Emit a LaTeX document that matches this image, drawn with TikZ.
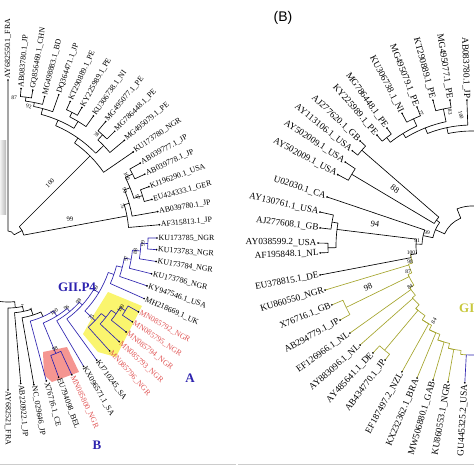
\documentclass[tikz,border=0pt]{standalone}
\usepackage{fontspec}
\setmainfont{Liberation Serif}
\newfontfamily\sansf{Liberation Sans}
\usetikzlibrary{calc}
\definecolor{gb}{RGB}{45,35,175}
\definecolor{olv}{RGB}{165,165,45}
\definecolor{olvtxt}{RGB}{200,200,60}
\definecolor{rtxt}{RGB}{225,85,85}
\definecolor{ylw}{RGB}{250,245,110}
\definecolor{pnk}{RGB}{245,150,145}
\tikzset{
 br/.style={line width=0.65pt, line join=round},
 lblL/.style={font=\fontsize{7.9}{8}\selectfont, inner sep=0.6pt},
 lblR/.style={font=\fontsize{9.3}{10}\selectfont, inner sep=0.6pt},
 bs/.style={font=\fontsize{5.5}{6}\selectfont, inner sep=0pt},
 bsm/.style={font=\fontsize{6.5}{7}\selectfont, inner sep=0pt},
 bsbig/.style={font=\fontsize{8.5}{9}\selectfont, inner sep=0pt},
 clade/.style={font=\bfseries\fontsize{13}{14}\selectfont, text=gb, inner sep=0pt},
}
\newcommand{\arcbr}[6]{\draw[br,#2] ($(#1)+(#3:#4pt)$) -- ($(#1)+(#3:#6pt)$) arc[start angle=#3, end angle=#5, radius=#6pt];}
\newcommand{\leafL}[4]{\fill ($(CL)+(#1:#2pt)$) circle (0.95pt); \node[lblL,text=#4,anchor=west,rotate=#1] at ($(CL)+(#1:#2pt)+(#1:0.8pt)$) {#3};}
\newcommand{\leafR}[4]{\fill ($(CR)+(#1:#2pt)$) circle (0.95pt); \node[lblR,text=#4,anchor=east,rotate=#1-180] at ($(CR)+(#1:#2pt)+(#1:0.8pt)$) {#3};}
\newcommand{\bsC}[5]{\node[bs,rotate=#5] at ($(#1)+(#2:#3pt)$) {#4};}
\begin{document}
\begin{tikzpicture}[x=1pt,y=1pt]
\fill[white] (0,0) rectangle (474,-474);
\useasboundingbox (0,0) rectangle (474,-474);
\coordinate (CL) at (8,-238);
\coordinate (CR) at (472,-246);
% highlights
\fill[ylw] (108,-292) -- (142,-306) -- (116,-357) -- (98,-352) -- (83,-334) -- (93,-316) -- cycle;
\fill[pnk] (43,-352) -- (67,-347) -- (79,-372) -- (52,-382) -- (44,-375) -- cycle;
\shade[left color=gray!10, right color=gray!55] (0,-140) rectangle (6,-214);
\draw[gray!40, line width=1pt] (0,-464) -- (236,-464) (238,-464) -- (474,-464);
% ---------- left tree: top clade
\arcbr{CL}{black}{85}{150}{82.75}{142}
\arcbr{CL}{black}{80.5}{150}{82.75}{142}
\arcbr{CL}{black}{82.75}{142}{79}{138}
\arcbr{CL}{black}{75.5}{146}{79}{138}
\arcbr{CL}{black}{79}{138}{75}{134}
\arcbr{CL}{black}{70.5}{152}{75}{134}
\arcbr{CL}{black}{65.5}{150}{63}{141}
\arcbr{CL}{black}{60.5}{150}{63}{141}
\arcbr{CL}{black}{63}{141}{59}{136}
\arcbr{CL}{black}{55}{149}{59}{136}
\arcbr{CL}{black}{75}{134}{67}{128}
\arcbr{CL}{black}{59}{136}{67}{128}
\arcbr{CL}{black}{50}{152}{47.5}{140}
\arcbr{CL}{black}{45}{151}{47.5}{140}
\arcbr{CL}{black}{47.5}{140}{44}{133}
\arcbr{CL}{black}{40}{152}{44}{133}
\arcbr{CL}{black}{67}{128}{55}{122}
\arcbr{CL}{black}{44}{133}{55}{122}
\arcbr{CL}{black}{55}{122}{45}{116}
\arcbr{CL}{black}{34.5}{152}{45}{116}
\arcbr{CL}{black}{45}{116}{28}{16}
\arcbr{CL}{black}{29.5}{152}{27.25}{140}
\arcbr{CL}{black}{25}{151}{27.25}{140}
\arcbr{CL}{black}{20}{150}{17.5}{141}
\arcbr{CL}{black}{15}{149}{17.5}{141}
\arcbr{CL}{black}{27.25}{140}{22.4}{132}
\arcbr{CL}{black}{17.5}{141}{22.4}{132}
\arcbr{CL}{black}{22.4}{132}{16}{126}
\arcbr{CL}{black}{10}{152}{16}{126}
\arcbr{CL}{black}{16}{126}{10.5}{121}
\arcbr{CL}{black}{5}{152}{10.5}{121}
\arcbr{CL}{black}{10.5}{121}{28}{16}
\arcbr{CL}{black}{28}{16}{60}{7}
\arcbr{CL}{black}{90}{158}{60}{7}
% ---------- left tree: GII.P4 clade
\arcbr{CL}{gb}{0}{149}{-2.25}{140}
\arcbr{CL}{gb}{-4.5}{149}{-2.25}{140}
\arcbr{CL}{gb}{-2.25}{140}{-5.6}{133}
\arcbr{CL}{gb}{-9}{150}{-5.6}{133}
\arcbr{CL}{gb}{-5.6}{133}{-9.8}{125}
\arcbr{CL}{gb}{-14}{148}{-9.8}{125}
\arcbr{CL}{gb}{-9.8}{125}{-14.4}{118}
\arcbr{CL}{gb}{-19}{147}{-14.4}{118}
\arcbr{CL}{gb}{-14.4}{118}{-19}{112}
\arcbr{CL}{gb}{-24}{149}{-19}{112}
\arcbr{CL}{gb}{-29.5}{150}{-31.75}{138}
\arcbr{CL}{gb}{-34}{150}{-31.75}{138}
\arcbr{CL}{gb}{-31.75}{138}{-35}{132}
\arcbr{CL}{gb}{-38.5}{151}{-35}{132}
\arcbr{CL}{gb}{-35}{132}{-39}{126}
\arcbr{CL}{gb}{-43}{152}{-39}{126}
\arcbr{CL}{gb}{-39}{126}{-43.5}{120}
\arcbr{CL}{gb}{-48}{152}{-43.5}{120}
\arcbr{CL}{gb}{-19}{112}{-31}{106}
\arcbr{CL}{gb}{-43.5}{120}{-31}{106}
\arcbr{CL}{gb}{-31}{106}{-42}{100}
\arcbr{CL}{gb}{-54}{151}{-42}{100}
\arcbr{CL}{gb}{-42}{100}{-50}{96}
\arcbr{CL}{gb}{-59.5}{149}{-50}{96}
\arcbr{CL}{gb}{-65}{151}{-67.5}{125}
\arcbr{CL}{gb}{-70}{148}{-67.5}{125}
\arcbr{CL}{gb}{-50}{96}{-58}{92}
\arcbr{CL}{gb}{-67.5}{125}{-58}{92}
\arcbr{CL}{gb}{-58}{92}{-66}{86}
\arcbr{CL}{gb}{-75}{148}{-66}{86}
\arcbr{CL}{black}{-66}{86}{-72}{81}
\arcbr{CL}{black}{-80}{149}{-72}{81}
\arcbr{CL}{black}{-72}{81}{-78}{75}
\arcbr{CL}{black}{-85}{146}{-78}{75}
\arcbr{CL}{black}{-78}{75}{-84}{70}
\arcbr{CL}{black}{-90}{152}{-84}{70}
\arcbr{CL}{black}{-84}{70}{-110}{64}
% left leaves
\leafL{90}{158}{AY682550.1\_FRA}{black}
\leafL{85}{150}{AB083780.1\_JP}{black}
\leafL{80.5}{150}{GQ856469.1\_CHN}{black}
\leafL{75.5}{146}{MG498883.1\_BD}{black}
\leafL{70.5}{152}{DQ364471.1\_JP}{black}
\leafL{65.5}{150}{KT290889.1\_PE}{black}
\leafL{60.5}{150}{KY225989.1\_PE}{black}
\leafL{55}{149}{KU306738.1\_NI}{black}
\leafL{50}{152}{MG495077.1\_PE}{black}
\leafL{45}{151}{MG786448.1\_PE}{black}
\leafL{40}{152}{MG495079.1\_PE}{black}
\leafL{34.5}{152}{KU173780\_NGR}{black}
\leafL{29.5}{152}{AB039777.1\_JP}{black}
\leafL{25}{151}{AB039778.1\_JP}{black}
\leafL{20}{150}{KJ196290.1\_USA}{black}
\leafL{15}{149}{EU424333.1\_GER}{black}
\leafL{10}{152}{AB039780.1\_JP}{black}
\leafL{5}{152}{AF315813.1\_JP}{black}
\leafL{0}{149}{KU173785\_NGR}{black}
\leafL{-4.5}{149}{KU173783\_NGR}{black}
\leafL{-9}{150}{KU173784\_NGR}{black}
\leafL{-14}{148}{KU173786\_NGR}{black}
\leafL{-19}{147}{KY947546.1\_USA}{black}
\leafL{-24}{149}{MH218669.1\_UK}{black}
\leafL{-29.5}{150}{MN085792\_NGR}{rtxt}
\leafL{-34}{150}{MN085795\_NGR}{rtxt}
\leafL{-38.5}{151}{MN085794\_NGR}{rtxt}
\leafL{-43}{152}{MN085793\_NGR}{rtxt}
\leafL{-48}{152}{MN085796\_NGR}{rtxt}
\leafL{-54}{151}{KJ710245\_SA}{black}
\leafL{-59.5}{149}{KX096571.1\_SA}{black}
\leafL{-65}{151}{MN085800\_NGR}{rtxt}
\leafL{-70}{148}{EU794098\_BEL}{black}
\leafL{-75}{148}{X76716.1\_CE}{black}
\leafL{-80}{149}{NC\_029646\_JP}{black}
\leafL{-85}{146}{AB220922.1\_JP}{black}
\leafL{-90}{152}{AY682521\_FRA}{black}
% left bootstrap values
\node[bsm,rotate=47] at (50,-183) {100};
\node[bsm,rotate=10] at (70,-219) {99};
\bsC{CL}{87.5}{140}{87}{-2}
\bsC{CL}{81}{133}{92}{-9}
\bsC{CL}{49.5}{136}{78}{-40}
\bsC{CL}{27.5}{134}{100}{-62}
\bsC{CL}{22}{126}{93}{-68}
\bsC{CL}{17.5}{136}{97}{-72}
\bsC{CL}{15.5}{119}{75}{-74}
\bsC{CL}{-2.5}{135}{99}{88}
\bsC{CL}{-6}{128}{88}{84}
\bsC{CL}{-10}{120}{97}{80}
\bsC{CL}{-30}{101}{89}{60}
\bsC{CL}{-32}{133}{100}{58}
\bsC{CL}{-43.5}{115}{75}{47}
\bsC{CL}{-42}{95}{98}{48}
\bsC{CL}{-50}{91}{96}{40}
\bsC{CL}{-58}{87}{100}{32}
\bsC{CL}{-67}{120}{98}{23}
\bsC{CL}{-72}{76}{7}{18}
\bsC{CL}{-78}{70}{7}{12}
% ---------- right tree
\arcbr{CR}{black}{130.6}{146}{128.2}{138}
\arcbr{CR}{black}{125.8}{145.4}{128.2}{138}
\arcbr{CR}{black}{117.8}{150}{114.7}{140}
\arcbr{CR}{black}{111.6}{149.5}{114.7}{140}
\arcbr{CR}{black}{105}{151}{101.8}{140}
\arcbr{CR}{black}{98.6}{147.6}{101.8}{140}
\arcbr{CR}{black}{128.2}{138}{121.5}{132}
\arcbr{CR}{black}{114.7}{140}{121.5}{132}
\arcbr{CR}{black}{121.5}{132}{111.6}{127}
\arcbr{CR}{black}{101.8}{140}{111.6}{127}
\arcbr{CR}{black}{111.6}{127}{102}{121}
\arcbr{CR}{black}{92}{146}{102}{121}
\arcbr{CR}{black}{102}{121}{65}{115}
\arcbr{CR}{black}{136.8}{153.5}{139}{146}
\arcbr{CR}{black}{141.5}{153}{139}{146}
\arcbr{CR}{black}{146.5}{152}{149.2}{140}
\arcbr{CR}{black}{152}{152}{149.2}{140}
\arcbr{CR}{black}{139}{146}{144}{44}
\arcbr{CR}{black}{149.2}{140}{144}{44}
\arcbr{CR}{black}{167.4}{155.8}{170.3}{142}
\arcbr{CR}{black}{173.2}{153}{170.3}{142}
\arcbr{CR}{black}{178.9}{154}{180.7}{144}
\arcbr{CR}{black}{182.6}{152}{180.7}{144}
\arcbr{CR}{black}{170.3}{142}{173}{136}
\arcbr{CR}{black}{180.7}{144}{173}{136}
\arcbr{CR}{black}{173}{136}{178}{56}
\arcbr{CR}{black}{190.8}{154.7}{188}{62}
\arcbr{CR}{olv}{196}{66}{188}{62}
\arcbr{CR}{black}{188}{62}{178}{56}
\arcbr{CR}{black}{161.3}{153}{168}{50}
\arcbr{CR}{black}{178}{56}{168}{50}
\arcbr{CR}{black}{144}{44}{156}{40}
\arcbr{CR}{black}{168}{50}{156}{40}
\arcbr{CR}{black}{156}{40}{112}{30}
\arcbr{CR}{black}{112}{30}{75}{40}
\arcbr{CR}{olv}{196.7}{153.4}{196}{66}
\arcbr{CR}{olv}{204}{70}{196}{66}
\arcbr{CR}{olv}{202.8}{152}{206}{140}
\arcbr{CR}{olv}{209.3}{151.3}{206}{140}
\arcbr{CR}{olv}{206}{140}{204}{70}
\arcbr{CR}{olv}{214}{75}{204}{70}
\arcbr{CR}{olv}{215.5}{150}{214}{75}
\arcbr{CR}{olv}{221}{79}{214}{75}
\arcbr{CR}{olv}{221.5}{149.5}{221}{79}
\arcbr{CR}{olv}{228}{84}{221}{79}
\arcbr{CR}{olv}{227.2}{145.8}{230}{136}
\arcbr{CR}{olv}{232.7}{143.4}{230}{136}
\arcbr{CR}{olv}{230}{136}{228}{84}
\arcbr{CR}{olv}{236}{89}{228}{84}
\arcbr{CR}{olv}{240.9}{144}{236}{89}
\arcbr{CR}{olv}{243}{94}{236}{89}
\arcbr{CR}{olv}{247.4}{143}{243}{94}
\arcbr{CR}{olv}{250}{100}{243}{94}
\arcbr{CR}{olv}{253.8}{139.6}{250}{100}
\arcbr{CR}{olv}{257}{105}{250}{100}
\arcbr{CR}{olv}{260}{138}{257}{105}
\arcbr{CR}{olv}{264}{109}{257}{105}
\draw[br,olv] ($(CR)+(264:109pt)$) arc[start angle=264, end angle=267, radius=109pt];
\arcbr{CR}{gb}{267}{137}{285}{109}
% right leaves
\leafR{130.6}{146}{KY225989.1\_PE}{black}
\leafR{125.8}{145.4}{MG786448.1\_PE}{black}
\leafR{117.8}{150}{KU306738.1\_NI}{black}
\leafR{111.6}{149.5}{MG495079.1\_PE}{black}
\leafR{105}{151}{KT290889.1\_PE}{black}
\leafR{98.6}{147.6}{MG495077.1\_PE}{black}
\leafR{92}{146}{AB083780.1\_JP}{black}
\leafR{136.8}{153.5}{AJ277620.1\_GB}{black}
\leafR{141.5}{153}{AY113106.1\_USA}{black}
\leafR{146.5}{152}{AY502009.1\_USA}{black}
\leafR{152}{152}{AY502009.1\_USA}{black}
\leafR{161.3}{153}{U02030.1\_CA}{black}
\leafR{167.4}{155.8}{AY130761.1\_USA}{black}
\leafR{173.2}{153}{AJ277608.1\_GB}{black}
\leafR{178.9}{154}{AY038599.2\_USA}{black}
\leafR{182.6}{152}{AF195848.1\_NL}{black}
\leafR{190.8}{154.7}{EU378815.1\_DE}{black}
\leafR{196.7}{153.4}{KU860550\_NGR}{black}
\leafR{202.8}{152}{X76716.1\_GB}{black}
\leafR{209.3}{151.3}{AB294779.1\_JP}{black}
\leafR{215.5}{150}{EF126966.1\_NL}{black}
\leafR{221.5}{149.5}{AY883096.1\_NL}{black}
\leafR{227.2}{145.8}{AY485641.1\_DE}{black}
\leafR{232.7}{143.4}{AB434770.1\_JP}{black}
\leafR{240.9}{144}{EF187497.2\_NZL}{black}
\leafR{247.4}{143}{KX232362.1\_BRA}{black}
\leafR{253.8}{139.6}{MW506880.1\_GAB}{black}
\leafR{260}{138}{KU860553.1\_NGR}{black}
\leafR{267}{137}{GU445325.2\_USA}{black}
% right bootstrap values
\node[bs,rotate=-78] at (461,-115) {100};
\node[bs,rotate=-80] at (450,-112) {83};
\node[bs,rotate=-68] at (421,-113) {77};
\node[bsbig,rotate=-36] at (395,-189) {88};
\node[bsbig,rotate=-8] at (375,-224) {94};
\node[bs] at (427,-233) {99};
\node[bs] at (417,-241) {91};
\node[bs] at (411,-253) {100};
\node[bs] at (410,-262) {98};
\node[bs] at (408,-272) {87};
\node[bs,rotate=30] at (410,-287) {84};
\node[bs,rotate=60] at (434,-321) {84};
\node[bsbig,rotate=24] at (368,-287) {98};
% clade labels
\node[clade] at (77,-287) {GII.P4};
\node[clade] at (190,-378) {A};
\node[clade] at (97,-445) {B};
\node[clade, text=olvtxt, anchor=west] at (459,-308) {GII};
\node[font=\sansf\fontsize{14}{15}\selectfont, inner sep=0pt] at (283,-18) {(B)};
\end{tikzpicture}
\end{document}
